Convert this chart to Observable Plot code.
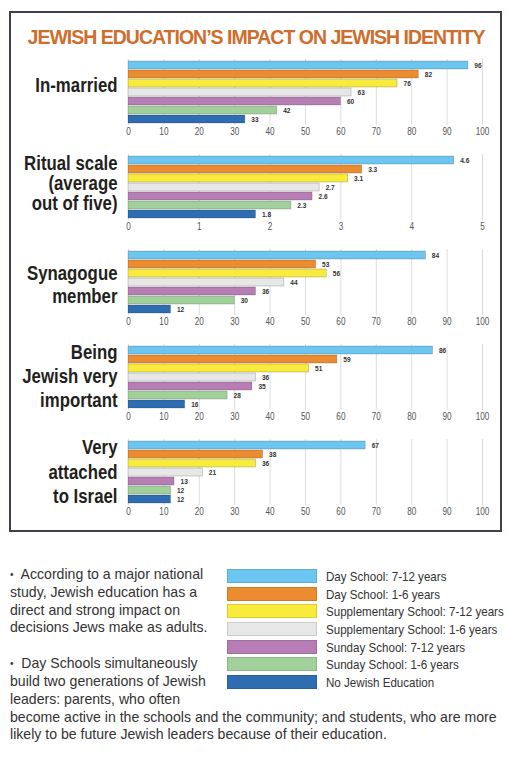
<!DOCTYPE html>
<html>
<head>
<meta charset="utf-8">
<script src="https://cdn.jsdelivr.net/npm/d3@7"></script>
<script src="https://cdn.jsdelivr.net/npm/@observablehq/plot@0.6"></script>
<style>
  html, body { margin: 0; padding: 0; background: #ffffff; }
  #page { position: relative; width: 508px; height: 760px; overflow: hidden; background: #fff; }
  #box { position: absolute; left: 9px; top: 11px; width: 493px; height: 521px; box-sizing: border-box; border: 2px solid #3c3f4c; }
  #title { position: absolute; left: 2px; width: 508px; top: 27px; text-align: center; font-family: "Liberation Sans", Arial, sans-serif; font-weight: bold; font-size: 19.5px; line-height: 20px; letter-spacing: -1px; color: #cf6d2c; white-space: nowrap; }
  .panel { position: absolute; left: 10px; }
  .panel svg { overflow: visible; }
  #notes { position: absolute; left: 10px; top: 566px; width: 498px; font-family: "Liberation Sans", Arial, sans-serif; font-size: 14.1px; line-height: 17.8px; color: #333; }
  #notes div { white-space: nowrap; height: 17.8px; }
  #notes .gap { height: 18px; }
  .bul { font-size: 10px; vertical-align: 1px; }
  #legend { position: absolute; left: 227px; top: 569px; }
  .lg { position: relative; height: 17.65px; }
  .sw { position: absolute; left: 0; top: 0; width: 90px; height: 14px; box-sizing: border-box; border: 1px solid rgba(0,0,0,0.12); }
  .lt { position: absolute; left: 99px; top: 0px; font-family: "Liberation Sans", Arial, sans-serif; font-size: 12.6px; line-height: 16px; color: #333; white-space: nowrap; transform: scaleX(0.92); transform-origin: left center; }
</style>
</head>
<body>
<div id="page">
  <div id="box"></div>
  <div id="title">JEWISH EDUCATION’S IMPACT ON JEWISH IDENTITY</div>
  <div id="panels"></div>
  <div id="notes"></div>
  <div id="legend"></div>
</div>
<script>
// ---- data ----
const schools = [
  "Day School: 7-12 years",
  "Day School: 1-6 years",
  "Supplementary School: 7-12 years",
  "Supplementary School: 1-6 years",
  "Sunday School: 7-12 years",
  "Sunday School: 1-6 years",
  "No Jewish Education"
];
const schoolColors = ["#6cc6ef", "#ea8c2f", "#f8eb3b", "#e7e7e7", "#b67eb5", "#a2d09b", "#2f6db2"];

const measures = [
  "In-married",
  "Ritual scale\n(average\nout of five)",
  "Synagogue\nmember",
  "Being\nJewish very\nimportant",
  "Very\nattached\nto Israel"
];
const inMarried   = [96, 82, 76, 63, 60, 42, 33];
const ritualScale = [4.6, 3.3, 3.1, 2.7, 2.6, 2.3, 1.8];
const synagogue   = [84, 53, 56, 44, 36, 30, 12];
const beingJewish = [86, 59, 51, 36, 35, 28, 16];
const israel      = [67, 38, 36, 21, 13, 12, 12];

const percentTicks = [0, 10, 20, 30, 40, 50, 60, 70, 80, 90, 100];
const ritualTicks  = [0, 1, 2, 3, 4, 5];

const notesLines = [
  "• According to a major national",
  "study, Jewish education has a",
  "direct and strong impact on",
  "decisions Jews make as adults.",
  "",
  "• Day Schools simultaneously",
  "build two generations of Jewish",
  "leaders: parents, who often",
  "become active in the schools and the community; and students, who are more",
  "likely to be future Jewish leaders because of their education."
];

// ---- panels ----
const panelDefs = [
  {label: measures[0], values: inMarried,   domain: [0, 100], ticks: percentTicks, fmt: d3.format("d"),   top: 50,  lh: 1.0,  dy: -6.7},
  {label: measures[1], values: ritualScale, domain: [0, 5],   ticks: ritualTicks,  fmt: d3.format(".1f"), top: 145, lh: 0.99, dy: -4.2},
  {label: measures[2], values: synagogue,   domain: [0, 100], ticks: percentTicks, fmt: d3.format("d"),   top: 240, lh: 1.12, dy: 1.3},
  {label: measures[3], values: beingJewish, domain: [0, 100], ticks: percentTicks, fmt: d3.format("d"),   top: 335, lh: 1.17, dy: -2.5},
  {label: measures[4], values: israel,      domain: [0, 100], ticks: percentTicks, fmt: d3.format("d"),   top: 430, lh: 1.21, dy: -1.9}
];

// horizontally condense a text element about its own anchor point
function condense(el, k) {
  const t = el.getAttribute("transform") || "";
  el.setAttribute("transform", (t + ` scale(${k},1)`).trim());
}

const panelsEl = document.getElementById("panels");
for (const p of panelDefs) {
  const rows = schools.map((s, i) => ({school: s, value: p.values[i]}));
  const chart = Plot.plot({
    width: 490,
    height: 89,
    marginLeft: 118,
    marginRight: 18,
    marginTop: 9,
    marginBottom: 14,
    style: {fontFamily: "'Liberation Sans', Arial, sans-serif", fontSize: "10px", color: "#555", background: "transparent", overflow: "visible"},
    x: {domain: p.domain, ticks: p.ticks, tickSize: 0, tickPadding: 2, label: null, tickFormat: d3.format("d")},
    y: {domain: schools, axis: null, padding: 0.15},
    color: {domain: schools, range: schoolColors},
    marks: [
      Plot.ruleX(p.ticks, {stroke: "#d4d4d4", strokeWidth: 0.8}),
      Plot.barX(rows, {x: "value", y: "school", fill: "school", stroke: "#000", strokeOpacity: 0.22, strokeWidth: 0.8}),
      Plot.text(rows, {x: "value", y: "school", text: d => p.fmt(d.value), dx: 6, textAnchor: "start",
        fontSize: 8, fontWeight: "bold", fill: "#333", ariaLabel: "value",
        fontFamily: "'Liberation Sans', Arial, sans-serif"}),
      Plot.text([p.label], {frameAnchor: "left", text: d => d, textAnchor: "end", lineAnchor: "middle",
        dx: -11, dy: p.dy, lineHeight: p.lh, fontSize: 20.5, fontWeight: "bold", fill: "#231f20",
        ariaLabel: "category", fontFamily: "'Liberation Sans', Arial, sans-serif"})
    ]
  });
  const wrap = document.createElement("div");
  wrap.className = "panel";
  wrap.style.top = p.top + "px";
  wrap.appendChild(chart);
  panelsEl.appendChild(wrap);

  // condensed type, as in the original artwork
  chart.querySelectorAll("text").forEach(t => {
    const g = t.closest("g[aria-label]");
    const role = g ? g.getAttribute("aria-label") : "";
    if (role === "value") { condense(t, 0.92); return; }
    condense(t, role === "category" ? 0.9 : 0.82);
  });
}

// ---- notes ----
const notesEl = document.getElementById("notes");
for (const line of notesLines) {
  const d = document.createElement("div");
  if (line === "") { d.className = "gap"; }
  else if (line.startsWith("•")) {
    d.innerHTML = '<span class="bul">•</span>&nbsp; ' + line.slice(2);
  } else d.textContent = line;
  notesEl.appendChild(d);
}

// ---- legend ----
const legendEl = document.getElementById("legend");
schools.forEach((s, i) => {
  const row = document.createElement("div");
  row.className = "lg";
  row.innerHTML = `<div class="sw" style="background:${schoolColors[i]}"></div><div class="lt">${s}</div>`;
  legendEl.appendChild(row);
});
</script>
</body>
</html>
